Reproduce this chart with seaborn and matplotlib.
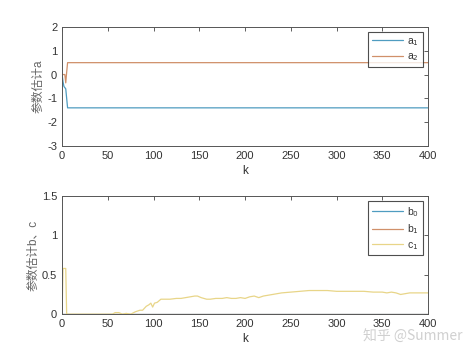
import matplotlib
matplotlib.use("Agg")
import matplotlib.pyplot as plt
import seaborn as sns
import pandas as pd

# ---- data ----
k_a = [0, 1, 2, 3, 4, 5, 6, 400]
a1 = [0.0, -0.3, -0.5, -0.55, -0.6, -1.0, -1.4, -1.4]
a2 = [0.0, 0.0, 0.0, 0.0, -0.35, 0.1, 0.5, 0.5]

k_b = [0, 400]
b0 = [0.0, 0.0]
b1 = [0.0, 0.0]

k_c = [0, 1, 2, 3, 4, 5, 6, 55, 58, 62, 66, 70, 75, 80, 85, 88, 92, 95, 97, 99, 101,
       104, 108, 112, 118, 125, 130, 135, 140, 145, 148, 152, 158, 162, 168, 175, 180,
       185, 190, 195, 200, 205, 210, 215, 220, 230, 240, 250, 260, 270, 280, 290, 300,
       310, 320, 330, 340, 350, 355, 360, 365, 370, 375, 380, 390, 400]
c1 = [0.0, 0.58, 0.58, 0.58, 0.58, 0.0, 0.0, 0.0, 0.02, 0.02, 0.0, 0.01, 0.0, 0.03, 0.05,
      0.05, 0.1, 0.12, 0.14, 0.09, 0.14, 0.15, 0.19, 0.19, 0.19, 0.2, 0.2, 0.21, 0.22,
      0.23, 0.23, 0.21, 0.19, 0.19, 0.2, 0.2, 0.21, 0.2, 0.2, 0.21, 0.2, 0.22, 0.23, 0.21,
      0.23, 0.25, 0.27, 0.28, 0.29, 0.3, 0.3, 0.3, 0.29, 0.29, 0.29, 0.29, 0.28, 0.28,
      0.27, 0.28, 0.27, 0.25, 0.26, 0.27, 0.27, 0.27]

x_ticks = [0, 50, 100, 150, 200, 250, 300, 350, 400]
ya_ticks = [-3, -2, -1, 0, 1, 2]
yb_ticks = [0, 0.5, 1, 1.5]
yb_labels = ["0", "0.5", "1", "1.5"]

BLUE = "#4f9cc0"
ORANGE = "#d0906a"
YELLOW = "#e8d588"

sns.set_theme(style="white")
plt.rcParams["font.family"] = ["Liberation Sans", "Noto Sans CJK SC", "DejaVu Sans"]

fig = plt.figure(figsize=(4.74, 3.55), dpi=100)
ax1 = fig.add_axes([0.131, 0.589, 0.772, 0.335])
ax2 = fig.add_axes([0.131, 0.115, 0.772, 0.333])

dfa = pd.DataFrame({"k": k_a, "a1": a1, "a2": a2})
sns.lineplot(data=dfa, x="k", y="a1", ax=ax1, color=BLUE, lw=0.9, label="a$_1$")
sns.lineplot(data=dfa, x="k", y="a2", ax=ax1, color=ORANGE, lw=0.9, label="a$_2$")

dfb = pd.DataFrame({"k": k_b, "b0": b0, "b1": b1})
dfc = pd.DataFrame({"k": k_c, "c1": c1})
sns.lineplot(data=dfb, x="k", y="b0", ax=ax2, color=BLUE, lw=0.9, label="b$_0$")
sns.lineplot(data=dfb, x="k", y="b1", ax=ax2, color=ORANGE, lw=0.9, label="b$_1$")
sns.lineplot(data=dfc, x="k", y="c1", ax=ax2, color=YELLOW, lw=0.9, label="c$_1$")

for ax in (ax1, ax2):
    ax.set_xlim(0, 400)
    ax.set_xticks(x_ticks)
    ax.set_xticklabels([str(t) for t in x_ticks])
    ax.set_xlabel("k", fontsize=8.5, color="#333333", labelpad=3)
    ax.tick_params(direction="in", length=3, width=0.6, top=True, right=True,
                   labelsize=8, colors="#333333", pad=3.5)
    ax.tick_params(axis="both", color="#444444")
    for s in ax.spines.values():
        s.set_color("#555555")
        s.set_linewidth(0.7)
    leg = ax.legend(loc="upper right", fontsize=7.5, frameon=True, fancybox=False,
                    handlelength=3.0, borderpad=0.35, labelspacing=0.35,
                    handletextpad=0.4, borderaxespad=0.5)
    leg.get_frame().set_edgecolor("#222222")
    leg.get_frame().set_linewidth(0.8)
    for t in leg.get_texts():
        t.set_color("#333333")

ax1.set_ylim(-3, 2)
ax1.set_yticks(ya_ticks)
ax1.set_yticklabels([str(t) for t in ya_ticks])
ax1.set_ylabel("参数估计a", fontsize=8.5, color="#666666", labelpad=2)

ax2.set_ylim(0, 1.5)
ax2.set_yticks(yb_ticks)
ax2.set_yticklabels(yb_labels)
ax2.set_ylabel("参数估计b、c", fontsize=8.5, color="#666666", labelpad=2)

fig.text(0.765, 0.05, "知乎 @Summer", fontsize=10, color="#d0d0d0", va="center",
         family=["Noto Sans CJK SC", "DejaVu Sans"])

fig.savefig("out.png", dpi=100, facecolor="white")
